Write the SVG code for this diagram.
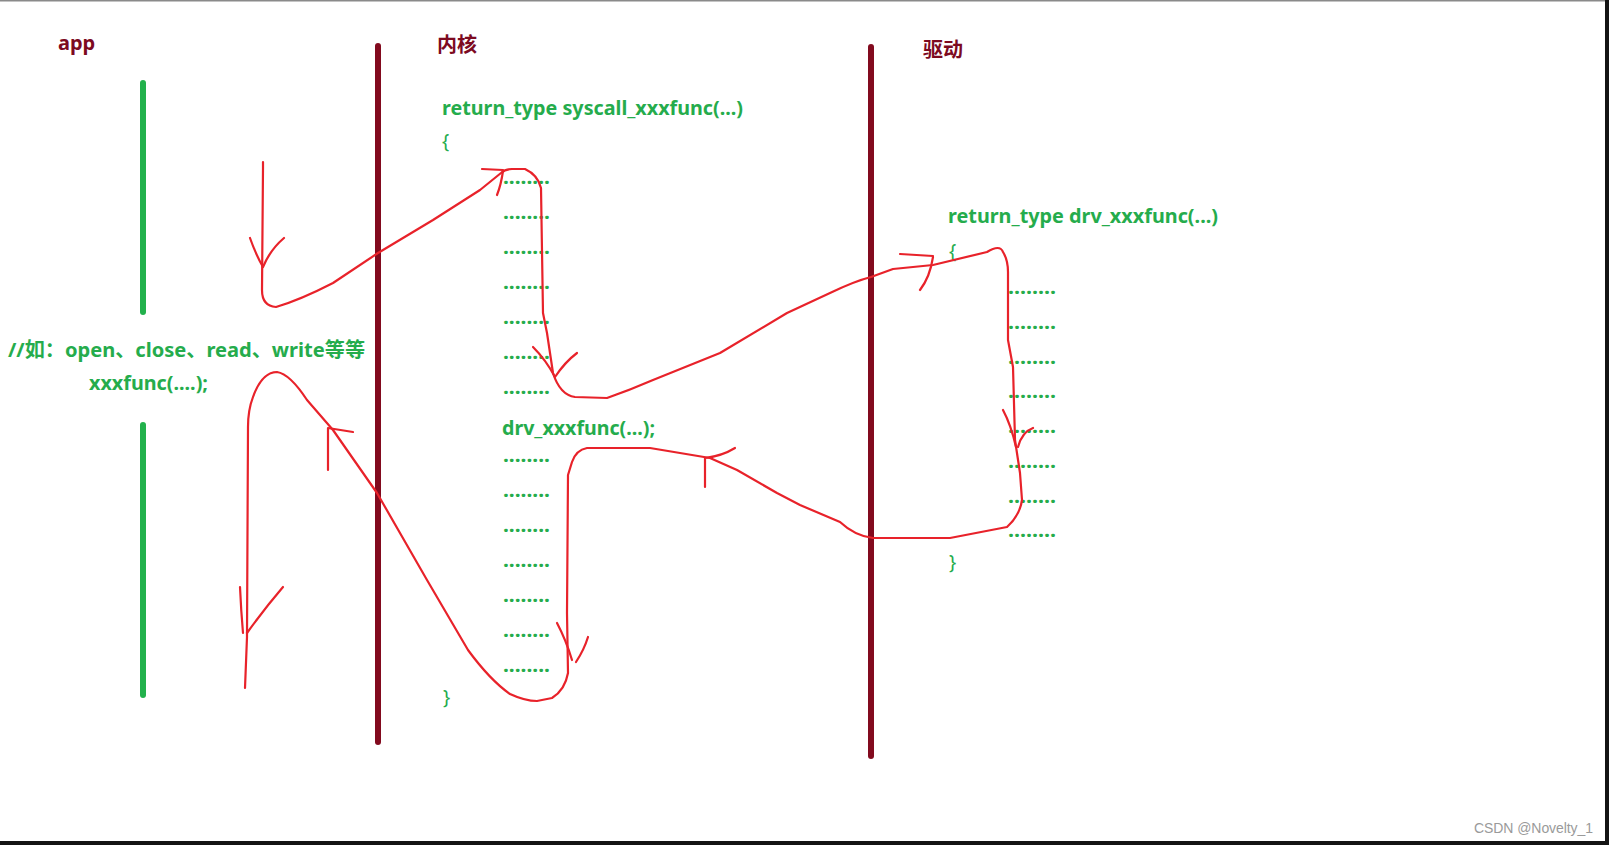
<svg xmlns="http://www.w3.org/2000/svg" width="1609" height="845" viewBox="0 0 1609 845">
<style>
.t{font-family:"Noto Sans","Noto Sans CJK SC",sans-serif;font-weight:bold;font-size:20px}
.title{fill:#7d0a1f}
.g{fill:#25ac4c}
.br{font-family:"Noto Sans",sans-serif;font-size:19px;fill:#25ac4c}
.dots{font-family:"Noto Sans",sans-serif;font-weight:bold;font-size:20px;fill:#25ac4c}
.gl{stroke:#22b14c;stroke-width:6;stroke-linecap:round}
.rl{stroke:#820a1e;stroke-width:6;stroke-linecap:round}
.red{fill:none;stroke:#e8222a;stroke-width:2.2;stroke-linecap:round;stroke-linejoin:round}
</style>
<rect x="0" y="0" width="1609" height="845" fill="#ffffff"/>
<rect x="0" y="0" width="1609" height="1.5" fill="#8a8a8a"/>
<rect x="1605" y="0" width="4" height="845" fill="#141414"/>
<rect x="0" y="841" width="1609" height="4" fill="#141414"/>

<g id="app">
<text class="t title" x="58" y="50">app</text>
<line class="gl" x1="143" y1="83" x2="143" y2="312"/>
<text class="t g" x="8" y="357" textLength="357" lengthAdjust="spacingAndGlyphs">//如：open、close、read、write等等</text>
<text class="t g" x="89" y="390" textLength="119" lengthAdjust="spacingAndGlyphs">xxxfunc(....);</text>
<line class="gl" x1="143" y1="425" x2="143" y2="695"/>
</g>

<g id="kernel">
<line class="rl" x1="378" y1="46" x2="378" y2="742"/>
<text class="t title" x="437" y="52">内核</text>
<text class="t g" x="442" y="115" textLength="301" lengthAdjust="spacingAndGlyphs">return_type syscall_xxxfunc(...)</text>
<text class="br" x="442" y="148">{</text>
<text class="dots" x="503" y="184" textLength="47" lengthAdjust="spacingAndGlyphs">........</text>
<text class="dots" x="503" y="219" textLength="47" lengthAdjust="spacingAndGlyphs">........</text>
<text class="dots" x="503" y="254" textLength="47" lengthAdjust="spacingAndGlyphs">........</text>
<text class="dots" x="503" y="289" textLength="47" lengthAdjust="spacingAndGlyphs">........</text>
<text class="dots" x="503" y="324" textLength="47" lengthAdjust="spacingAndGlyphs">........</text>
<text class="dots" x="503" y="359" textLength="47" lengthAdjust="spacingAndGlyphs">........</text>
<text class="dots" x="503" y="394" textLength="47" lengthAdjust="spacingAndGlyphs">........</text>
<text class="t g" x="502" y="435" textLength="153" lengthAdjust="spacingAndGlyphs">drv_xxxfunc(...);</text>
<text class="dots" x="503" y="462" textLength="47" lengthAdjust="spacingAndGlyphs">........</text>
<text class="dots" x="503" y="497" textLength="47" lengthAdjust="spacingAndGlyphs">........</text>
<text class="dots" x="503" y="532" textLength="47" lengthAdjust="spacingAndGlyphs">........</text>
<text class="dots" x="503" y="567" textLength="47" lengthAdjust="spacingAndGlyphs">........</text>
<text class="dots" x="503" y="602" textLength="47" lengthAdjust="spacingAndGlyphs">........</text>
<text class="dots" x="503" y="637" textLength="47" lengthAdjust="spacingAndGlyphs">........</text>
<text class="dots" x="503" y="672" textLength="47" lengthAdjust="spacingAndGlyphs">........</text>
<text class="br" x="443" y="704">}</text>
</g>

<g id="driver">
<line class="rl" x1="871" y1="47" x2="871" y2="756"/>
<text class="t title" x="923" y="57">驱动</text>
<text class="t g" x="948" y="223" textLength="270" lengthAdjust="spacingAndGlyphs">return_type drv_xxxfunc(...)</text>
<text class="br" x="949" y="258">{</text>
<text class="dots" x="1008" y="294" textLength="48" lengthAdjust="spacingAndGlyphs">........</text>
<text class="dots" x="1008" y="329" textLength="48" lengthAdjust="spacingAndGlyphs">........</text>
<text class="dots" x="1008" y="364" textLength="48" lengthAdjust="spacingAndGlyphs">........</text>
<text class="dots" x="1008" y="398" textLength="48" lengthAdjust="spacingAndGlyphs">........</text>
<text class="dots" x="1008" y="433" textLength="48" lengthAdjust="spacingAndGlyphs">........</text>
<text class="dots" x="1008" y="468" textLength="48" lengthAdjust="spacingAndGlyphs">........</text>
<text class="dots" x="1008" y="503" textLength="48" lengthAdjust="spacingAndGlyphs">........</text>
<text class="dots" x="1008" y="537" textLength="48" lengthAdjust="spacingAndGlyphs">........</text>
<text class="br" x="949" y="569">}</text>
</g>

<g id="connectors">
<path class="red" d="M263,162 L263,168 L262,290 Q262,306 276,307 Q300,300 333,283 L378,253 L433,220 L480,190 L501,173 Q505,169 512,169 L525,169 Q538,175 541,188 L543,313 L547,333 L553,373 Q560,395 575,397 L607,398 Q630,390 653,380 L720,353 L787,313 L830,293 Q855,281 871,277 L893,269 L933,265 L987,252 Q1000,244 1003,252 Q1008,260 1008,272 L1008,340 L1013,367 L1015,440 L1020,473 L1022,500 Q1020,515 1007,527 L950,538 L873,538"/>
<path class="red" d="M873,538 Q855,536 840,522 L800,505 L777,493 L737,470 L710,458 L650,448 L587,448 Q576,450 572,462 L568,475 L567,613 L568,673 Q565,690 552,698 L537,701 Q525,701 510,694 Q490,680 468,650 L427,580 L377,493 L333,430 L307,400 Q290,374 277,372 Q262,372 253,397 Q248,410 248,427 L247,637 L245,688"/>
<g id="arrowheads">
<path class="red" d="M250,238 Q256,255 263,267 M284,238 Q270,250 263,267"/>
<path class="red" d="M482,169 L503,170 M503,171 Q501,185 497,195"/>
<path class="red" d="M533,347 Q546,360 555,377 M577,353 Q565,362 555,377"/>
<path class="red" d="M900,254 L933,256 M933,257 Q930,277 920,290"/>
<path class="red" d="M1003,410 Q1011,425 1016,447 M1033,428 Q1022,432 1018,447"/>
<path class="red" d="M705,487 L705,458 Q722,456 735,448"/>
<path class="red" d="M557,623 Q566,640 572,660 M588,637 Q584,650 576,662"/>
<path class="red" d="M328,470 L328,428 L353,432"/>
<path class="red" d="M240,587 Q241,610 243,633 M283,587 Q265,608 247,633"/>
</g>
</g>

<text x="1474" y="833" font-family="Liberation Sans, sans-serif" font-size="14" fill="#9a9a9a" textLength="119">CSDN @Novelty_1</text>
</svg>
